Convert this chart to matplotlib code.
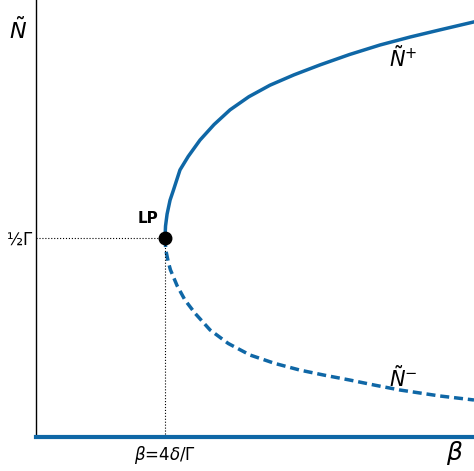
import matplotlib
matplotlib.use("Agg")
import matplotlib.pyplot as plt

beta_up = [1.0, 1.004, 1.016, 1.039, 1.065, 1.116, 1.18, 1.271, 1.38, 1.504, 1.65, 1.814, 2.0, 2.202, 2.43, 2.667, 2.9, 3.132, 3.395]
n_up    = [0.5, 0.530, 0.560, 0.595, 0.620, 0.671, 0.705, 0.746, 0.785, 0.822, 0.855, 0.884, 0.910, 0.935, 0.961, 0.985, 1.005, 1.023, 1.043]
beta_lo = [1.0, 1.006, 1.025, 1.042, 1.094, 1.155, 1.235, 1.349, 1.49, 1.659, 1.85, 2.047, 2.24, 2.434, 2.63, 2.822, 3.132, 3.395]
n_lo    = [0.5, 0.470, 0.440, 0.420, 0.380, 0.344, 0.310, 0.269, 0.235, 0.206, 0.185, 0.168, 0.155, 0.143, 0.130, 0.118, 0.103, 0.093]
lp = (1.0, 0.5)

blue = "#0f67a6"
fig = plt.figure(figsize=(4.74, 4.71), dpi=100)
ax = fig.add_axes([36/474, 34/471, 438/474, 437/471])
ax.plot(beta_up, n_up, color=blue, lw=2.5, solid_joinstyle="round")
ax.plot(beta_lo, n_lo, color=blue, lw=2.5, ls=(0, (2.6, 1.4)))
ax.plot([lp[0], lp[0]], [0, lp[1]], color="black", lw=0.8, ls=":")
ax.plot([0, lp[0]], [lp[1], lp[1]], color="black", lw=0.8, ls=":")
ax.plot(*lp, "o", color="black", ms=9, zorder=5)
ax.set_xlim(0, 3.395)
ax.set_ylim(0, 1.098)
for s in ["top", "right"]:
    ax.spines[s].set_visible(False)
ax.spines["left"].set_linewidth(1)
ax.spines["bottom"].set_color(blue)
ax.spines["bottom"].set_linewidth(3)
ax.set_xticks([]); ax.set_yticks([])
ax.text(0.87, 0.53, "LP", fontsize=11, fontweight="bold", ha="center", va="bottom")
ax.text(2.85, 0.93, "$\\tilde{N}^{+}$", fontsize=15, ha="center")
ax.text(2.85, 0.125, "$\\tilde{N}^{-}$", fontsize=15, ha="center")
fig.text(18/474, 1-30/471, "$\\tilde{N}$", fontsize=16, ha="center", va="center")
fig.text(20/474, 1-240/471, "½$\\mathit{\\Gamma}$", fontsize=12, ha="center", va="center")
fig.text(165/474, 1-455/471, "$\\beta$=4$\\delta$/$\\mathit{\\Gamma}$", fontsize=12, ha="center", va="center")
fig.text(455/474, 1-453/471, "$\\beta$", fontsize=18, ha="center", va="center")
fig.savefig("out.png", dpi=100)
